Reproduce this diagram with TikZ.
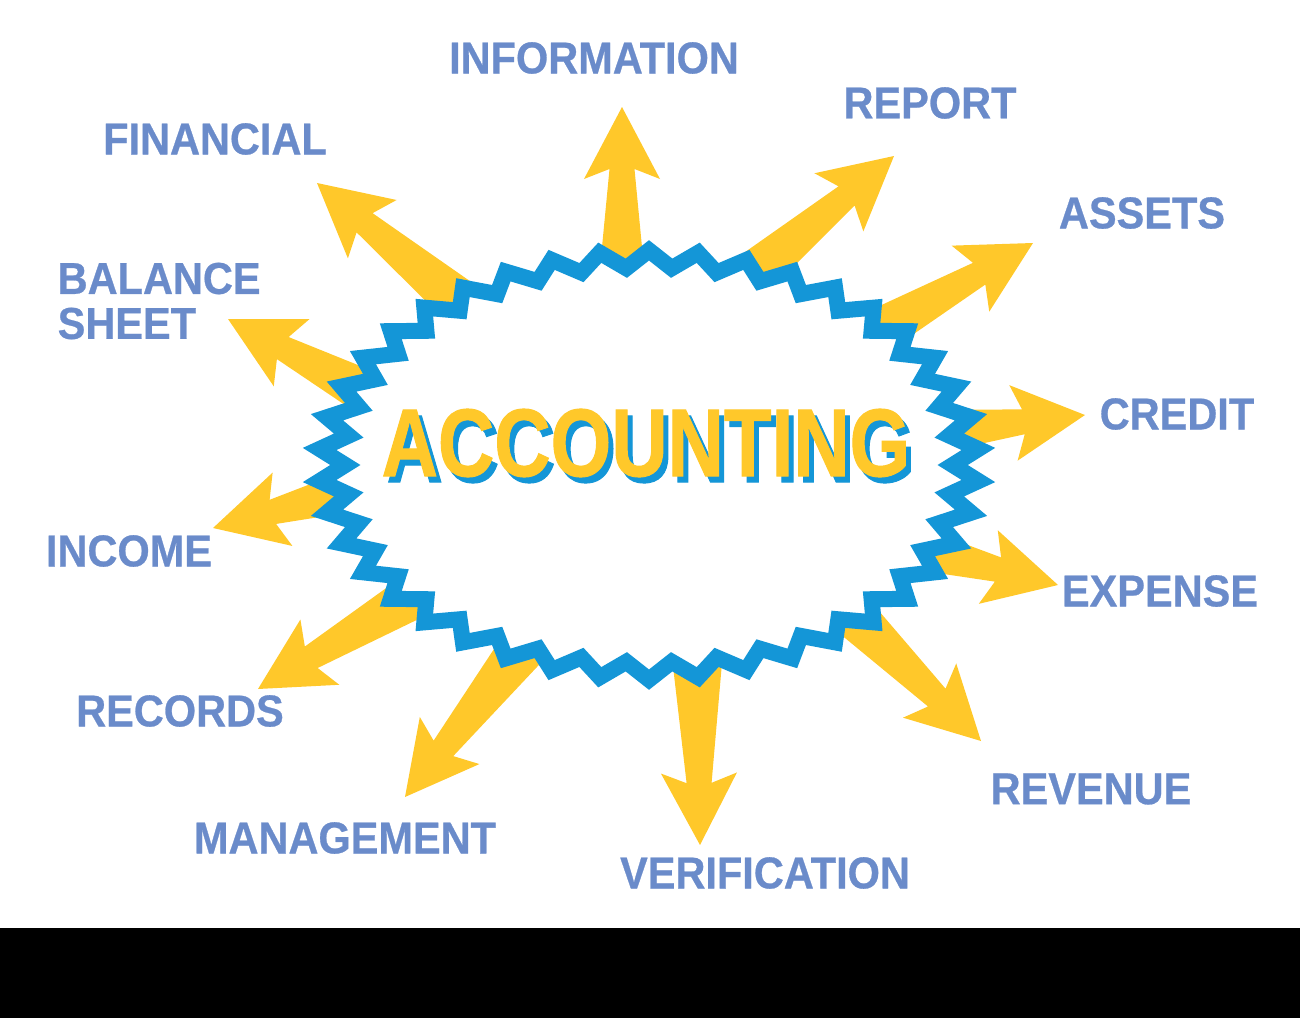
\documentclass[tikz,border=0pt]{standalone}
\usepackage{fontspec}
\setmainfont{Liberation Sans}
\newfontfamily\termfont{Liberation Sans}[FakeStretch=0.93, FakeBold=0.6]
\newfontfamily\titlefont{Liberation Sans}[FakeStretch=0.81, FakeBold=1]
\usetikzlibrary{calc}

\definecolor{rayyellow}{RGB}{255,200,42}
\definecolor{rimblue}{RGB}{20,150,215}
\definecolor{termblue}{RGB}{106,139,202}

\tikzset{
  ray/.style={fill=rayyellow},
  rim/.style={draw=rimblue, fill=white, line width=1.6mm, line join=miter, miter limit=10},
  term/.style={text=termblue, inner sep=0pt, font=\termfont\fontsize{12.7}{12.8}\selectfont\bfseries},
  title/.style={inner sep=0pt, font=\titlefont\fontsize{27.4}{30}\selectfont\bfseries},
}

% tapered arrow from base #1 to tip #2
\newcommand{\fatray}[2]{%
  \coordinate (#2-w) at ($(#2)!7.2mm!(#1)$);
  \coordinate (#2-n) at ($(#2)!6.2mm!(#1)$);
  \fill[ray] ($(#1)!2.7mm!90:(#2)$) -- ($(#2-n)!1.25mm!90:(#2)$)
    -- ($(#2-w)!3.8mm!90:(#2)$) -- (#2) -- ($(#2-w)!3.8mm!-90:(#2)$)
    -- ($(#2-n)!1.25mm!-90:(#2)$) -- ($(#1)!2.7mm!-90:(#2)$) -- cycle;
}

\begin{document}
\begin{tikzpicture}[x=0.1mm, y=-0.1mm]

  \useasboundingbox (0,0) rectangle (1300,1018);
  \fill[black] (0,928) rectangle (1300,1018);

  % Arrow bases and tips
  \coordinate (s-info)    at (622,320);  \coordinate (t-info)    at (622,107);
  \coordinate (s-report)  at (718,304);  \coordinate (t-report)  at (894,156);
  \coordinate (s-assets)  at (833,357);  \coordinate (t-assets)  at (1033,243);
  \coordinate (s-credit)  at (886,437);  \coordinate (t-credit)  at (1085,415);
  \coordinate (s-expense) at (864,535);  \coordinate (t-expense) at (1058,585);
  \coordinate (s-revenue) at (817,580);  \coordinate (t-revenue) at (981,741);
  \coordinate (s-verif)   at (697,640);  \coordinate (t-verif)   at (700,845);
  \coordinate (s-manage)  at (548,616);  \coordinate (t-manage)  at (405,797);
  \coordinate (s-records) at (456,571);  \coordinate (t-records) at (258,689);
  \coordinate (s-income)  at (406,476);  \coordinate (t-income)  at (213,528);
  \coordinate (s-balance) at (405,413);  \coordinate (t-balance) at (228,319);
  \coordinate (s-financ)  at (493,330);  \coordinate (t-financ)  at (317,183);

  % Arrows
  \foreach \r in {info,report,assets,credit,expense,revenue,verif,manage,records,income,balance,financ}
    \fatray{s-\r}{t-\r};

  % Zigzag rim
  \filldraw[rim] plot[domain=0:84, samples=85]
    ({649+317*(1-0.042*cos(180*\x))*cos(\x*30/7)}, {465+206*(1-0.042*cos(180*\x))*sin(\x*30/7)}) -- cycle;

  % Centre title
  \node[title, text=rimblue]   (hub-shadow) at (651,449) {ACCOUNTING};
  \node[title, text=rayyellow] (hub)        at (646,443) {ACCOUNTING};

  % Terms
  \node[term] (info)    at (594,58)  {INFORMATION};
  \node[term] (report)  at (930,103) {REPORT};
  \node[term] (financ)  at (215,139) {FINANCIAL};
  \node[term] (assets)  at (1142,213) {ASSETS};
  \node[term, align=left, anchor=west] (balance) at (57,301) {BALANCE\\SHEET};
  \node[term] (credit)  at (1177,414) {CREDIT};
  \node[term] (income)  at (129,551) {INCOME};
  \node[term] (expense) at (1160,591) {EXPENSE};
  \node[term] (records) at (180,711) {RECORDS};
  \node[term] (revenue) at (1091,789) {REVENUE};
  \node[term] (manage)  at (345,838) {MANAGEMENT};
  \node[term] (verif)   at (765,873) {VERIFICATION};

\end{tikzpicture}
\end{document}
